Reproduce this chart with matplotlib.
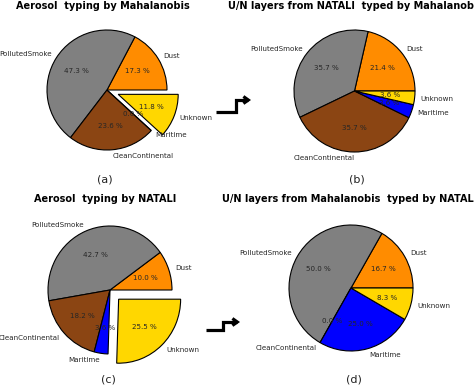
import matplotlib
matplotlib.use("Agg")
import matplotlib.pyplot as plt
from matplotlib.patches import FancyArrowPatch
from matplotlib.path import Path

W, H = 474, 385

labels = ['Dust', 'PollutedSmoke', 'CleanContinental', 'Maritime', 'Unknown']
colors = ['#FF8C00', '#808080', '#8B4513', '#0000FF', '#FFD700']

vals_a = [17.3, 47.3, 23.6, 0.0, 11.8]
vals_b = [21.4, 35.7, 35.7, 3.6, 3.6]
vals_c = [10.0, 42.7, 18.2, 3.6, 25.5]
vals_d = [16.7, 50.0, 0.0, 25.0, 8.3]

explode_a = [0, 0, 0, 0, 0.2]
explode_b = [0, 0, 0, 0, 0]
explode_c = [0, 0, 0, 0, 0.2]
explode_d = [0, 0, 0, 0, 0]

titles = ['Aerosol  typing by Mahalanobis',
          'U/N layers from NATALI  typed by Mahalanobis',
          'Aerosol  typing by NATALI',
          'U/N layers from Mahalanobis  typed by NATALI']
panel_tags = ['(a)', '(b)', '(c)', '(d)']

fig = plt.figure(figsize=(W / 100, H / 100), dpi=100)

# (cx, cy, rx, ry) in pixels, title y, tag y
layout = [
    (107, 90, 60, 60, 6, 179),
    (354.5, 91, 60.5, 61, 6, 179),
    (110, 290, 62, 64, 199, 379),
    (351, 288, 62, 63, 199, 379),
]
title_x = [103, 356, 105, 350]
tag_x = [105, 357, 108, 354]

data = [vals_a, vals_b, vals_c, vals_d]
explodes = [explode_a, explode_b, explode_c, explode_d]

S = 1.7
for i, (cx, cy, rx, ry, ty, gy) in enumerate(layout):
    ax = fig.add_axes([(cx - S * rx) / W, 1 - (cy + S * ry) / H,
                       2 * S * rx / W, 2 * S * ry / H])
    ax.pie(data[i], labels=labels, colors=colors, explode=explodes[i],
           autopct='%1.1f %%', startangle=0, counterclock=True,
           wedgeprops=dict(edgecolor='black', linewidth=0.8),
           textprops=dict(fontsize=5.1, color='#262626'))
    ax.set_aspect('auto')
    ax.set_xlim(-S, S)
    ax.set_ylim(-S, S)
    ax.axis('off')
    fig.text(title_x[i] / W, 1 - ty / H, titles[i], ha='center', va='center',
             fontsize=7.0, fontweight='bold')
    fig.text(tag_x[i] / W, 1 - gy / H, panel_tags[i], ha='center', va='center',
             fontsize=8, color='#222222')

def fx(x):
    return x / W

def fy(y):
    return 1 - y / H

arrows = [
    [(216, 112), (236, 112), (236, 100), (251, 100)],
    [(206, 330), (223, 330), (223, 322), (240, 322)],
]
for pts in arrows:
    verts = [(fx(x), fy(y)) for x, y in pts]
    codes = [Path.MOVETO] + [Path.LINETO] * (len(verts) - 1)
    arr = FancyArrowPatch(path=Path(verts, codes),
                          arrowstyle='->,head_length=3.5,head_width=2.5',
                          lw=2.3, color='black', transform=fig.transFigure,
                          joinstyle='miter', capstyle='butt')
    fig.add_artist(arr)

fig.savefig('out.png', dpi=100)
